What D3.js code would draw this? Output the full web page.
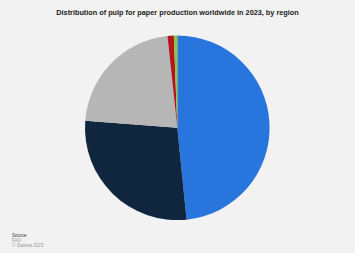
<!DOCTYPE html>
<meta charset="utf-8">
<style>
body { margin: 0; background: #f2f2f2; }
svg { display: block; font-family: "Liberation Sans", Arial, sans-serif; }
.title { font-weight: bold; fill: #222; }
.src { fill: #333; }
.src2 { fill: #999; }
</style>
<svg width="355" height="253"></svg>
<script src="https://d3js.org/d3.v7.min.js"></script>
<script>
var regions = ["Americas", "Asia", "Europe", "Oceania", "Africa"];
var shares = [48.4, 27.8, 22.1, 1.1, 0.6];
var colors = ["#2876dd", "#10253e", "#b6b6b6", "#b2161c", "#8cc33f"];

var svg = d3.select("svg"),
    width = +svg.attr("width"),
    height = +svg.attr("height"),
    cx = 177.3, cy = 127.8, radius = 92.3;

svg.append("rect")
    .attr("width", width)
    .attr("height", height)
    .attr("fill", "#f2f2f2");

svg.append("text")
    .attr("class", "title")
    .attr("x", width / 2)
    .attr("y", 15.3)
    .attr("text-anchor", "middle")
    .style("font-size", "7.3px")
    .text("Distribution of pulp for paper production worldwide in 2023, by region");

var data = regions.map(function(r, i) { return {region: r, value: shares[i]}; });

var pie = d3.pie()
    .sort(null)
    .value(function(d) { return d.value; });

var arc = d3.arc()
    .innerRadius(0)
    .outerRadius(radius);

var color = d3.scaleOrdinal()
    .domain(regions)
    .range(colors);

var g = svg.append("g")
    .attr("transform", "translate(" + cx + "," + cy + ")");

g.selectAll("path")
    .data(pie(data))
    .enter()
    .append("path")
    .attr("d", arc)
    .attr("fill", function(d) { return color(d.data.region); });

svg.append("text")
    .attr("class", "src")
    .attr("x", 12)
    .attr("y", 237.3)
    .style("font-size", "4.6px")
    .text("Source");

svg.append("text")
    .attr("class", "src2")
    .attr("x", 12)
    .attr("y", 242)
    .style("font-size", "4.6px")
    .text("FAO");

svg.append("text")
    .attr("class", "src2")
    .attr("x", 12)
    .attr("y", 247)
    .style("font-size", "4.6px")
    .text("© Statista 2025");
</script>
